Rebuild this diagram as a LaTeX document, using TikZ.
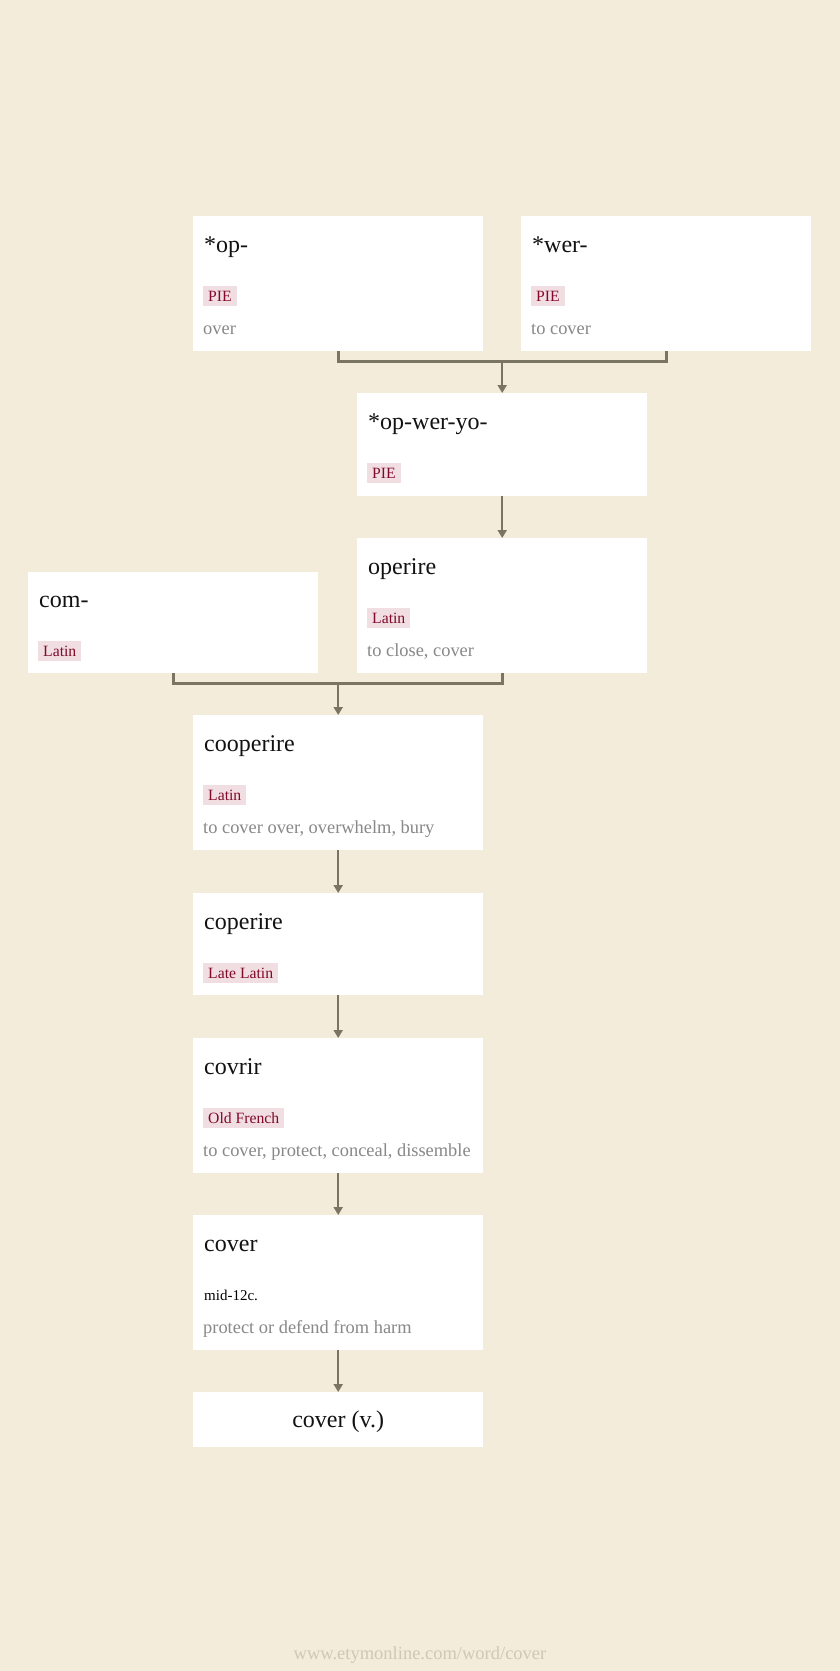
\documentclass[tikz,border=0pt]{standalone}
\usepackage{fontspec}
\setmainfont{Liberation Serif}
\usetikzlibrary{arrows.meta,positioning}

\definecolor{paper}{RGB}{243,236,218}
\definecolor{linkgray}{RGB}{122,116,98}
\definecolor{tagfill}{RGB}{241,222,227}
\definecolor{tagtext}{RGB}{128,10,40}
\definecolor{glossgray}{RGB}{136,136,136}
\definecolor{footgray}{RGB}{208,199,180}

\begin{document}
\begin{tikzpicture}[
    x=1pt, y=-1pt,
    card/.style={fill=white, anchor=north west, inner sep=0pt, minimum width=290pt},
    word/.style={anchor=base west, inner sep=0pt, text=black!93, font=\fontsize{24}{28}\selectfont},
    lang/.style={anchor=west, fill=tagfill, text=tagtext, inner xsep=5pt, inner ysep=4.8pt,
      text height=10.4pt, text depth=0pt, font=\fontsize{15.7}{18}\selectfont},
    gloss/.style={anchor=base west, inner sep=0pt, text=glossgray, font=\fontsize{18.4}{22}\selectfont},
    merge/.style={draw=linkgray, line width=2.6pt},
    descent/.style={draw=linkgray, line width=2pt, -{Triangle[length=8pt, width=9pt]}}
  ]

  % Background
  \fill[paper] (0,0) rectangle (840,1671);

  % PIE roots
  \node[card, minimum height=135pt] (op) at (193,216) {};
  \node[word] (opW) at ([shift={(11,36)}]op.north west) {*op-};
  \node[lang] (opL) at ([shift={(10,80)}]op.north west) {PIE};
  \node[gloss] (opG) at ([shift={(10,118)}]op.north west) {over};

  \node[card, minimum height=135pt] (wer) at (521,216) {};
  \node[word] (werW) at ([shift={(11,36)}]wer.north west) {*wer-};
  \node[lang] (werL) at ([shift={(10,80)}]wer.north west) {PIE};
  \node[gloss] (werG) at ([shift={(10,118)}]wer.north west) {to cover};

  \node[card, minimum height=103pt] (opweryo) at (357,393) {};
  \node[word] (opweryoW) at ([shift={(11,36)}]opweryo.north west) {*op-wer-yo-};
  \node[lang] (opweryoL) at ([shift={(10,80)}]opweryo.north west) {PIE};

  % Latin
  \node[card, minimum height=135pt] (operire) at (357,538) {};
  \node[word] (operireW) at ([shift={(11,36)}]operire.north west) {operire};
  \node[lang] (operireL) at ([shift={(10,80)}]operire.north west) {Latin};
  \node[gloss] (operireG) at ([shift={(10,118)}]operire.north west) {to close, cover};

  \node[card, minimum height=101pt] (com) at (28,572) {};
  \node[word] (comW) at ([shift={(11,35)}]com.north west) {com-};
  \node[lang] (comL) at ([shift={(10,79)}]com.north west) {Latin};

  \node[card, minimum height=135pt] (cooperire) at (193,715) {};
  \node[word] (cooperireW) at ([shift={(11,36)}]cooperire.north west) {cooperire};
  \node[lang] (cooperireL) at ([shift={(10,80)}]cooperire.north west) {Latin};
  \node[gloss] (cooperireG) at ([shift={(10,118)}]cooperire.north west) {to cover over, overwhelm, bury};

  \node[card, minimum height=102pt] (coperire) at (193,893) {};
  \node[word] (coperireW) at ([shift={(11,36)}]coperire.north west) {coperire};
  \node[lang] (coperireL) at ([shift={(10,80)}]coperire.north west) {Late Latin};

  % French and English
  \node[card, minimum height=135pt] (covrir) at (193,1038) {};
  \node[word] (covrirW) at ([shift={(11,36)}]covrir.north west) {covrir};
  \node[lang] (covrirL) at ([shift={(10,80)}]covrir.north west) {Old French};
  \node[gloss] (covrirG) at ([shift={(10,118)}]covrir.north west) {to cover, protect, conceal, dissemble};

  \node[card, minimum height=135pt] (cover) at (193,1215) {};
  \node[word] (coverW) at ([shift={(11,36)}]cover.north west) {cover};
  \node[anchor=base west, inner sep=0pt, font=\fontsize{15}{18}\selectfont] (coverD)
    at ([shift={(11,85)}]cover.north west) {mid-12c.};
  \node[gloss] (coverG) at ([shift={(10,118)}]cover.north west) {protect or defend from harm};

  \node[card, minimum height=55pt] (coverv) at (193,1392) {};
  \node[word, anchor=base] (covervW) at ([shift={(0,35)}]coverv.north) {cover (v.)};

  % Merging branches
  \coordinate (j1) at ([shift={(0,10)}]op.south);
  \draw[merge] (op.south) -- (j1) -| (wer.south);
  \draw[descent] (j1 -| opweryo.north) -- (opweryo.north);

  \coordinate (j2) at ([shift={(0,10)}]com.south);
  \draw[merge] (com.south) -- (j2) -| (operire.south);
  \draw[descent] (j2 -| cooperire.north) -- (cooperire.north);

  % Single descents
  \draw[descent] (opweryo) -- (operire);
  \draw[descent] (cooperire) -- (coperire);
  \draw[descent] (coperire) -- (covrir);
  \draw[descent] (covrir) -- (cover);
  \draw[descent] (cover) -- (coverv);

  % Source
  \node[anchor=base, text=footgray, font=\fontsize{18.5}{22}\selectfont] (source) at (420,1659)
    {www.etymonline.com/word/cover};
\end{tikzpicture}
\end{document}
